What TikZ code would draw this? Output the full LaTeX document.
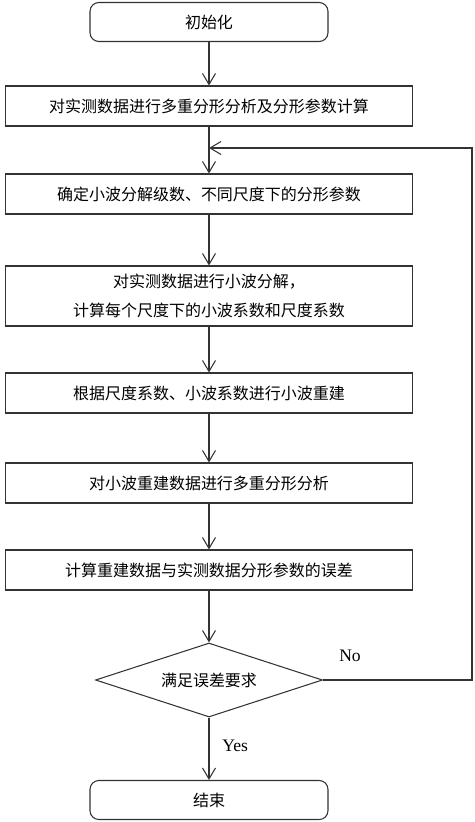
\documentclass[tikz,border=0pt]{standalone}
\usepackage{fontspec}
\newfontfamily\cjk{Noto Sans CJK SC}
\newfontfamily\latin{Liberation Serif}
\usepackage{tikz}
\usetikzlibrary{shapes.geometric, arrows.meta, positioning, calc}

\tikzset{
  flowbox/.style={draw=black!80, line width=0.6pt, rectangle, minimum width=8.14cm, minimum height=0.8cm,
    inner sep=0pt, align=center, font=\cjk\fontsize{9.1}{16.5}\selectfont},
  endbox/.style={flowbox, rounded corners=5pt, minimum width=4.76cm, minimum height=0.78cm},
  decision/.style={draw=black!80, line width=0.6pt, diamond, aspect=3.07, minimum width=4.54cm,
    minimum height=1.48cm, inner sep=0pt, font=\cjk\fontsize{9.1}{12}\selectfont},
  flow/.style={draw=black!80, line width=0.6pt, -{Straight Barb[length=2.2mm,width=2.6mm]}},
  tag/.style={font=\latin\fontsize{10}{12}\selectfont}
}

\begin{document}
\begin{tikzpicture}[x=0.02cm, y=-0.02cm]
  \useasboundingbox (0,0) rectangle (474,822);
  % steps of the procedure
  \node[endbox] (init) at (209,22) {初始化};
  \node[flowbox] (analyse) at (209,106) {对实测数据进行多重分形分析及分形参数计算};
  \node[flowbox] (level) at (209,194) {确定小波分解级数、不同尺度下的分形参数};
  \node[flowbox, minimum height=1.2cm] (decomp) at (209,296) {对实测数据进行小波分解，\\计算每个尺度下的小波系数和尺度系数};
  \node[flowbox] (rebuild) at (209,393) {根据尺度系数、小波系数进行小波重建};
  \node[flowbox] (reanal) at (209,483) {对小波重建数据进行多重分形分析};
  \node[flowbox] (error) at (209,570) {计算重建数据与实测数据分形参数的误差};
  \node[decision] (check) at (209,680) {满足误差要求};
  \node[endbox] (finish) at (209,800) {结束};

  % connectors
  \draw[flow] (init) -- (analyse);
  \draw[flow] (analyse) -- (level);
  \draw[flow] (level) -- (decomp);
  \draw[flow] (decomp) -- (rebuild);
  \draw[flow] (rebuild) -- (reanal);
  \draw[flow] (reanal) -- (error);
  \draw[flow] (error) -- (check);
  \draw[flow] (check) -- node[tag, right=4pt, pos=0.45] (yes) {Yes} (finish);

  % loop back when the error is too large
  \coordinate (loopR) at (472,148);
  \coordinate (merge) at (209,148);
  \draw[flow] (check.east) -| (loopR) -- (merge);
  \node[tag] (no) at (350,656) {No};
\end{tikzpicture}
\end{document}
